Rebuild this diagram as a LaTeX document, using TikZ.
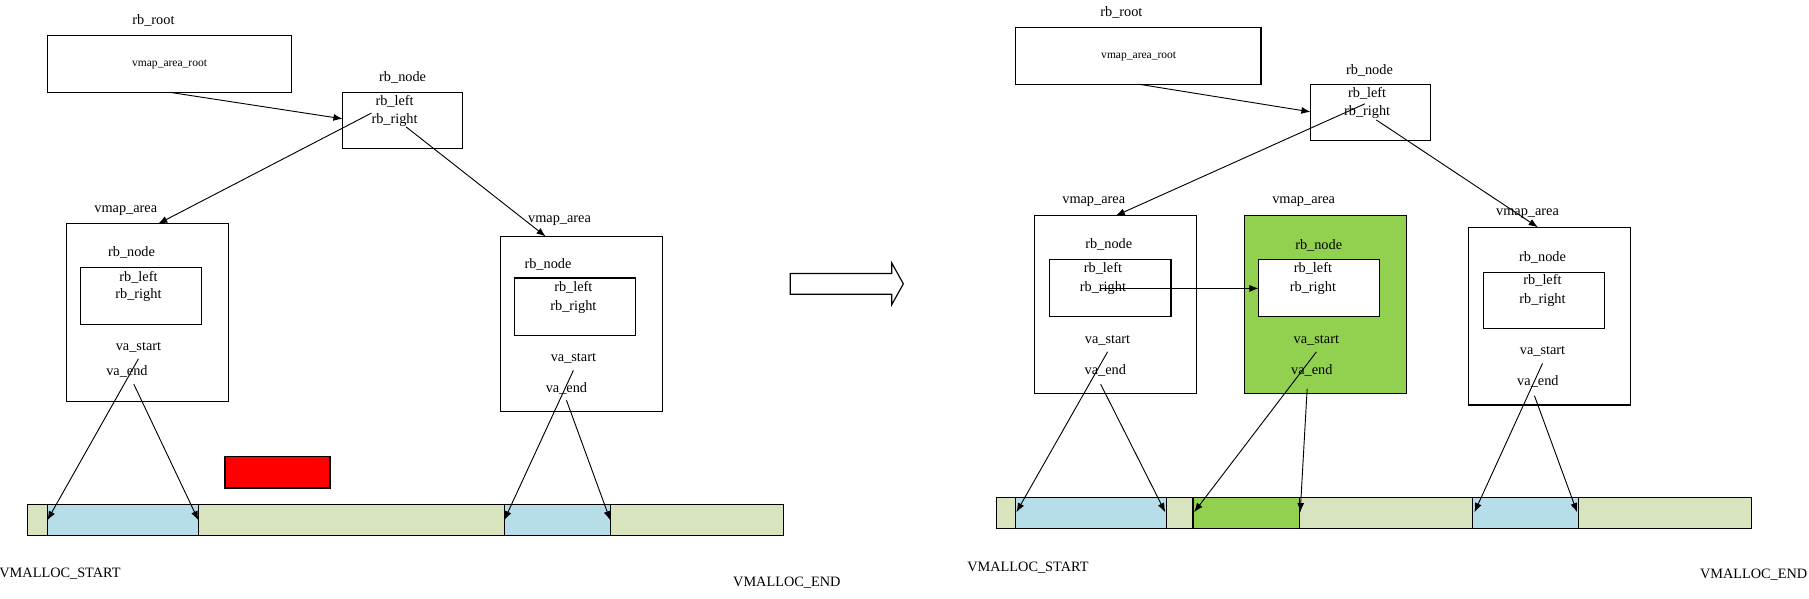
\documentclass[tikz,border=0pt]{standalone}
\usepackage{fontspec}
\setmainfont{Liberation Serif}
\usetikzlibrary{arrows.meta}
\definecolor{barg}{HTML}{D7E4BD}
\definecolor{blu}{HTML}{B7DDE8}
\definecolor{grn}{HTML}{92D050}
\begin{document}
\begin{tikzpicture}[x=0.5pt,y=-0.5pt,
  box/.style={draw,line width=0.5pt},
  lbl/.style={inner sep=0pt,font=\fontsize{6.2}{7}\selectfont},
  small/.style={inner sep=0pt,font=\fontsize{5}{6}\selectfont},
  arr/.style={-{Latex[length=4pt,width=3pt]},line width=0.4pt}]
\useasboundingbox (0,0) rectangle (1568,519);
% ---------- left panel ----------
\node[lbl] (l_rbroot) at (133,18) {rb\_root};
\draw[box] (41,31) rectangle (253,80);
\node[small] (l_root) at (147,56) {vmap\_area\_root};
\coordinate (l_rootb) at (147,80);
\node[lbl] (l_rbn) at (349,67) {rb\_node};
\draw[box] (297,80) rectangle (401,129);
\coordinate (l_nl) at (297,103);
\node[lbl] (l_left) at (342,88) {rb\_left};
\node[lbl] (l_right) at (342,104) {rb\_right};
\coordinate (l_s1) at (322,98); \coordinate (l_s2) at (352,110);
\node[lbl] (l_va1) at (109,183) {vmap\_area};
\draw[box] (58,194) rectangle (198,348);
\coordinate (l_t1) at (137,194);
\node[lbl] at (114,219) {rb\_node};
\draw[box] (70,232) rectangle (175,281);
\node[lbl] at (120,240) {rb\_left};
\node[lbl] at (120,256) {rb\_right};
\node[lbl] at (120,301) {va\_start};
\node[lbl] at (110,322) {va\_end};
\coordinate (l_a1s) at (120,311); \coordinate (l_a1e) at (116,333);
\node[lbl] (l_va2) at (485,191) {vmap\_area};
\draw[box] (434,205) rectangle (574,357);
\coordinate (l_t2) at (473,205);
\node[lbl] at (475,229) {rb\_node};
\draw[box] (446,241) rectangle (551,291);
\node[lbl] at (497,249) {rb\_left};
\node[lbl] at (497,266) {rb\_right};
\node[lbl] at (497,311) {va\_start};
\node[lbl] at (491,337) {va\_end};
\coordinate (l_a2s) at (497,321); \coordinate (l_a2e) at (491,347);
\draw[box,fill=red] (195,396) rectangle (286,423);
\draw[box,fill=barg] (24,437) rectangle (679,464);
\draw[box,fill=blu] (41,437) rectangle (172,464);
\draw[box,fill=blu] (437,437) rectangle (529,464);
\coordinate (l_b1) at (41,451); \coordinate (l_b2) at (172,451);
\coordinate (l_b3) at (437,451); \coordinate (l_b4) at (529,451);
\draw[arr] (l_rootb) -- (l_nl);
\draw[arr] (l_s1) -- (l_t1);
\draw[arr] (l_s2) -- (l_t2);
\draw[arr] (l_a1s) -- (l_b1);
\draw[arr] (l_a1e) -- (l_b2);
\draw[arr] (l_a2s) -- (l_b3);
\draw[arr] (l_a2e) -- (l_b4);
\node[lbl] at (52,497) {VMALLOC\_START};
\node[lbl] at (682,505) {VMALLOC\_END};
% hollow arrow
\draw[line width=0.5pt,fill=white] (685,237) -- (773,237) -- (773,228) -- (783,246) -- (773,264) -- (773,255) -- (685,255) -- cycle;
% ---------- right panel ----------
\node[lbl] at (972,11) {rb\_root};
\draw[box] (880,24) rectangle (1093,73);
\node[small] at (987,49) {vmap\_area\_root};
\coordinate (r_rootb) at (987,73);
\node[lbl] at (1187,61) {rb\_node};
\draw[box] (1136,73) rectangle (1240,122);
\coordinate (r_nl) at (1136,97);
\node[lbl] at (1185,81) {rb\_left};
\node[lbl] at (1185,97) {rb\_right};
\coordinate (r_s1) at (1183,90); \coordinate (r_s2) at (1193,104);
% box1
\node[lbl] at (948,175) {vmap\_area};
\draw[box] (897,187) rectangle (1037,341);
\coordinate (r_t1) at (967,187);
\node[lbl] at (961,212) {rb\_node};
\draw[box] (910,225) rectangle (1015,274);
\node[lbl] at (956,233) {rb\_left};
\node[lbl] at (956,250) {rb\_right};
\coordinate (r_x) at (954,250);
\node[lbl] at (960,295) {va\_start};
\node[lbl] at (958,321) {va\_end};
\coordinate (r_a1s) at (960,305); \coordinate (r_a1e) at (954,333);
% green
\node[lbl] at (1130,175) {vmap\_area};
\draw[box,fill=grn] (1079,187) rectangle (1219,341);
\node[lbl] at (1143,213) {rb\_node};
\draw[box,fill=white] (1091,225) rectangle (1196,274);
\coordinate (r_gin) at (1091,250);
\node[lbl] at (1138,233) {rb\_left};
\node[lbl] at (1138,250) {rb\_right};
\node[lbl] at (1141,295) {va\_start};
\node[lbl] at (1137,321) {va\_end};
\coordinate (r_a2s) at (1141,305); \coordinate (r_a2e) at (1133,337);
% box3
\node[lbl] at (1324,185) {vmap\_area};
\draw[box] (1273,197) rectangle (1413,351);
\coordinate (r_t3) at (1333,197);
\node[lbl] at (1337,223) {rb\_node};
\draw[box] (1286,236) rectangle (1391,285);
\node[lbl] at (1337,243) {rb\_left};
\node[lbl] at (1337,260) {rb\_right};
\node[lbl] at (1337,305) {va\_start};
\node[lbl] at (1333,331) {va\_end};
\coordinate (r_a3s) at (1337,315); \coordinate (r_a3e) at (1330,343);
% bar
\draw[box,fill=barg] (864,431) rectangle (1518,458);
\draw[box,fill=blu] (880,431) rectangle (1011,458);
\draw[box,fill=grn] (1034,431) rectangle (1126,458);
\draw[box,fill=blu] (1276,431) rectangle (1368,458);
\coordinate (r_b1) at (881,444); \coordinate (r_b2) at (1010,444);
\coordinate (r_b3) at (1035,444); \coordinate (r_b4) at (1127,444);
\coordinate (r_b5) at (1278,444); \coordinate (r_b6) at (1367,444);
\draw[arr] (r_rootb) -- (r_nl);
\draw[arr] (r_s1) -- (r_t1);
\draw[arr] (r_s2) -- (r_t3);
\draw[arr] (r_x) -- (r_gin);
\draw[arr] (r_a1s) -- (r_b1);
\draw[arr] (r_a1e) -- (r_b2);
\draw[arr] (r_a2s) -- (r_b3);
\draw[arr] (r_a2e) -- (r_b4);
\draw[arr] (r_a3s) -- (r_b5);
\draw[arr] (r_a3e) -- (r_b6);
\node[lbl] at (891,492) {VMALLOC\_START};
\node[lbl] at (1520,498) {VMALLOC\_END};
\end{tikzpicture}
\end{document}
